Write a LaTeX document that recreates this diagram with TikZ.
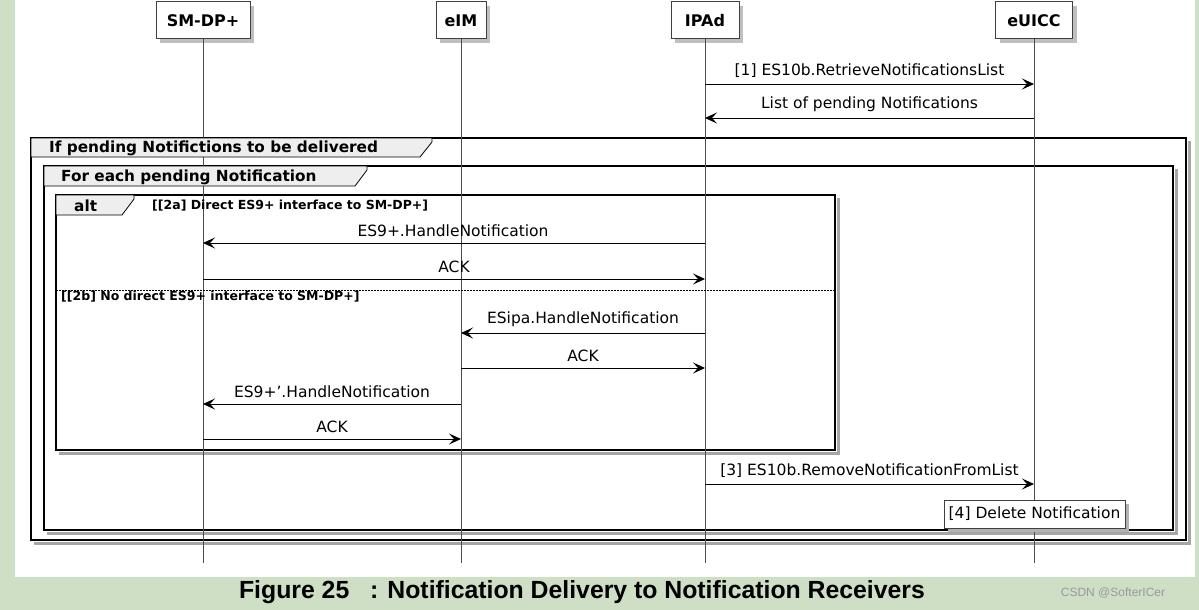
\documentclass[tikz,border=0pt]{standalone}
\usepackage{fontspec}
\setmainfont{DejaVu Sans}
\newfontfamily\capfont{Liberation Sans}
\usetikzlibrary{arrows.meta}
\definecolor{bggreen}{HTML}{CFDFC5}
\definecolor{tabgray}{HTML}{EEEEEE}
\begin{document}
\begin{tikzpicture}[x=1pt,y=-1pt,
  head/.style={draw=black!75,fill=white,line width=1pt,minimum height=37pt,inner sep=0pt,font=\fontsize{16}{18}\selectfont\bfseries},
  life/.style={draw=black!70,line width=0.6pt},
  msg/.style={draw=black,line width=0.9pt,-{Stealth[length=12pt,width=11pt,inset=5pt]}},
  lbl/.style={font=\fontsize{15.5}{17}\selectfont,inner sep=0pt},
  frame/.style={draw=black,line width=1.6pt},
  tab/.style={font=\fontsize{15.3}{17}\selectfont\bfseries,inner sep=0pt,anchor=west},
  guard/.style={font=\fontsize{12.5}{14}\selectfont\bfseries,inner sep=0pt,anchor=west}]
\useasboundingbox (0,0) rectangle (1199,610);
\fill[bggreen] (0,0) rectangle (1199,610);
\fill[white] (15,0) rectangle (1195,577);
% headers
\foreach \n/\x/\w/\t in {sm/203/94/SM-DP+, eim/461/50/eIM, ipad/705/68/IPAd, euicc/1034/77/eUICC}{
  \fill[black!25] (\x-\w/2+4,6) rectangle (\x+\w/2+4,43);
  \node[head,minimum width=\w pt] (h\n) at (\x,20.5) {\t};
  \coordinate (b\n) at (\x,563);
}
\foreach \n/\x in {sm/203, eim/461, ipad/705, euicc/1034}{
  \foreach \y in {84,118,243,279,333,368,404,439,484}{
    \coordinate (\n\y) at (\x,\y);
  }
}
% frames with shadows
\draw[black!35,line width=3pt] (34,543)--(1189,543)--(1189,141);
\draw[frame,fill=white] (31,138) rectangle (1186,540);
\draw[black!35,line width=3pt] (47,533)--(1176,533)--(1176,169);
\draw[frame,fill=white] (44,166) rectangle (1173,530);
\draw[black!35,line width=3pt] (59,453)--(838,453)--(838,198);
\draw[frame,fill=white] (56,195) rectangle (835,450);
\foreach \n in {sm,eim,ipad,euicc}{\draw[life] (h\n.south) -- (b\n);}
% tabs
\draw[fill=tabgray,line width=0.8pt] (31,138)--(432,138)--(432,142)--(420,157)--(31,157)--cycle;
\node[tab] (t1) at (49,148) {If pending Notifictions to be delivered};
\draw[fill=tabgray,line width=0.8pt] (44,166)--(367,166)--(367,170)--(355,186)--(44,186)--cycle;
\node[tab] (t2) at (61,177) {For each pending Notification};
\draw[fill=tabgray,line width=0.8pt] (56,195)--(134,195)--(134,199)--(122,215)--(56,215)--cycle;
\node[tab] (t3) at (74,206) {alt};
\node[guard] (g1) at (152,206) {[[2a] Direct ES9+ interface to SM-DP+]};
\draw[dash pattern=on 2pt off 1pt,line width=0.6pt] (56,290)--(835,290);
\node[guard] (g2) at (61,297) {[[2b] No direct ES9+ interface to SM-DP+]};
% messages
\draw[msg] (ipad84) -- node[lbl,above=6pt]{[1] ES10b.RetrieveNotificationsList} (euicc84);
\draw[msg] (euicc118) -- node[lbl,above=6pt]{List of pending Notifications} (ipad118);
\draw[msg] (ipad243) -- node[lbl,above=6pt,xshift=-1pt]{ES9+.HandleNotification} (sm243);
\draw[msg] (sm279) -- node[lbl,above=6pt]{ACK} (ipad279);
\draw[msg] (ipad333) -- node[lbl,above=6pt]{ESipa.HandleNotification} (eim333);
\draw[msg] (eim368) -- node[lbl,above=6pt]{ACK} (ipad368);
\draw[msg] (eim404) -- node[lbl,above=6pt]{ES9+’.HandleNotification} (sm404);
\draw[msg] (sm439) -- node[lbl,above=6pt]{ACK} (eim439);
\draw[msg] (ipad484) -- node[lbl,above=6pt]{[3] ES10b.RemoveNotificationFromList} (euicc484);
% note
\fill[black!30] (948,504) rectangle (1129,532);
\node[draw=black!75,fill=white,line width=0.7pt,minimum width=181pt,minimum height=28pt,inner sep=0pt,font=\fontsize{15.5}{17}\selectfont] (note) at (1034.5,514) {[4] Delete Notification};
% caption
\node[font=\capfont\fontsize{24.8}{28}\selectfont\bfseries] (cap) at (582,592) {Figure 25\ \ \ : Notification Delivery to Notification Receivers};
\node[font=\capfont\fontsize{12}{14}\selectfont,text=black!40] (wm) at (1113,593) {CSDN @SofterICer};
\end{tikzpicture}
\end{document}
